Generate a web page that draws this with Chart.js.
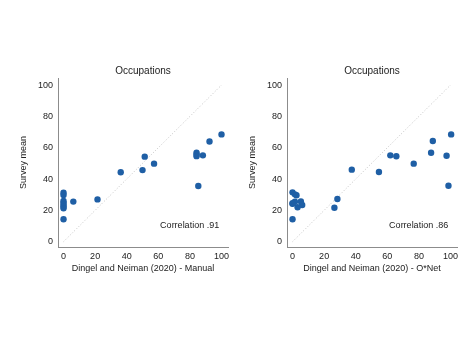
<!DOCTYPE html>
<html>
<head>
<meta charset="utf-8">
<script src="https://cdn.jsdelivr.net/npm/chart.js@4/dist/chart.umd.min.js"></script>
<style>
  html, body { margin: 0; padding: 0; background: #ffffff; }
  body { width: 474px; height: 344px; position: relative; overflow: hidden; }
  canvas { position: absolute; top: 0; }
</style>
</head>
<body>
<canvas id="left" width="237" height="344" style="left:0px"></canvas>
<canvas id="right" width="237" height="344" style="left:229px"></canvas>
<script>
// ---- Data ----
const chartTitle = "Occupations";
const yAxisTitle = "Survey mean";
const tickValues = [0, 20, 40, 60, 80, 100];

const manualTitle = "Dingel and Neiman (2020) - Manual";
const manualX = [0, 0, 0, 0, 0, 0, 0, 0, 6.2, 21.5, 36.2, 50, 51.4, 57.3, 84.2, 84.2, 84.2, 85.3, 88.2, 92.4, 100];
const manualY = [31.2, 29.8, 26, 24.8, 23.5, 22.5, 21.3, 14.3, 25.6, 27, 44.3, 45.7, 54.3, 49.8, 56.8, 55.7, 54.6, 35.5, 55.1, 64, 68.5];
const manualCorr = "Correlation .91";

const onetTitle = "Dingel and Neiman (2020) - O*Net";
const onetX = [0, 0, 0, 1.5, 1.5, 2.5, 3.2, 5.3, 6.1, 0, 26.5, 28.4, 37.5, 54.7, 61.9, 65.7, 76.7, 87.7, 88.8, 97.5, 98.7, 100.4];
const onetY = [14.3, 31.5, 24.5, 25.5, 30.2, 29.6, 22, 25.7, 23.4, 24.2, 21.7, 27.2, 46, 44.5, 55.1, 54.5, 49.8, 56.8, 64.3, 54.9, 35.7, 68.5];
const onetCorr = "Correlation .86";

const diagonalX = [0, 100];
const diagonalY = [0, 100];

// ---- Styles ----
Chart.defaults.font.family = "'Liberation Sans', Arial, Helvetica, sans-serif";
Chart.defaults.color = "#222222";
const pointColor = "#1f5fa5";
const axisColor = "#8c8c8c";

function toPoints(xs, ys) {
  return xs.map((x, i) => ({ x: x, y: ys[i] }));
}

const annotatePlugin = {
  id: "annotate",
  afterDraw(chart) {
    const ctx = chart.ctx;
    const area = chart.chartArea;
    const opts = chart.options.plugins.annotate;
    ctx.save();
    ctx.fillStyle = "#222222";
    ctx.font = "10px 'Liberation Sans', Arial, sans-serif";
    ctx.textAlign = "center";
    ctx.textBaseline = "middle";
    ctx.fillText(opts.title, (area.left + area.right) / 2, 71);
    ctx.font = "9px 'Liberation Sans', Arial, sans-serif";
    ctx.textAlign = "right";
    const px = chart.scales.x.getPixelForValue(98.5);
    const py = chart.scales.y.getPixelForValue(10.3);
    ctx.fillText(opts.corr, px, py);
    ctx.restore();
  }
};

function makeChart(id, xs, ys, xTitle, corr) {
  return new Chart(document.getElementById(id), {
    type: "scatter",
    data: {
      datasets: [
        {
          type: "line",
          data: toPoints(diagonalX, diagonalY),
          borderColor: "#bdbdbd",
          borderWidth: 0.9,
          borderDash: [1, 2],
          pointRadius: 0,
          fill: false,
          order: 2
        },
        {
          data: toPoints(xs, ys),
          backgroundColor: pointColor,
          borderColor: pointColor,
          borderWidth: 0,
          pointRadius: 3.2,
          order: 1
        }
      ]
    },
    options: {
      responsive: false,
      animation: false,
      devicePixelRatio: 1,
      layout: { padding: { left: 0, right: 9, top: 78, bottom: 67 } },
      plugins: {
        legend: { display: false },
        tooltip: { enabled: false },
        annotate: { title: chartTitle, corr: corr }
      },
      scales: {
        x: {
          type: "linear",
          min: -3.5,
          max: 104.1,
          afterBuildTicks: (s) => { s.ticks = tickValues.map(v => ({ value: v })); },
          afterFit: (s) => { s.height = 30; },
          grid: { display: false, drawTicks: false },
          border: { display: true, color: axisColor, width: 1 },
          ticks: { font: { size: 9 }, padding: 4, maxRotation: 0, autoSkip: false, color: "#222222" },
          title: { display: true, text: xTitle, font: { size: 9 }, padding: { top: 0, bottom: 2.6 }, color: "#222222" }
        },
        y: {
          type: "linear",
          min: -3.4,
          max: 104.5,
          afterBuildTicks: (s) => { s.ticks = tickValues.map(v => ({ value: v })); },
          afterFit: (s) => { s.width = 58; },
          grid: { display: false, drawTicks: false },
          border: { display: true, color: axisColor, width: 1 },
          ticks: { font: { size: 9 }, padding: 5, autoSkip: false, color: "#222222" },
          title: { display: true, text: yAxisTitle, font: { size: 9 }, padding: { top: 18, bottom: 0 }, color: "#222222" }
        }
      }
    },
    plugins: [annotatePlugin]
  });
}

makeChart("left", manualX, manualY, manualTitle, manualCorr);
makeChart("right", onetX, onetY, onetTitle, onetCorr);
</script>
</body>
</html>
